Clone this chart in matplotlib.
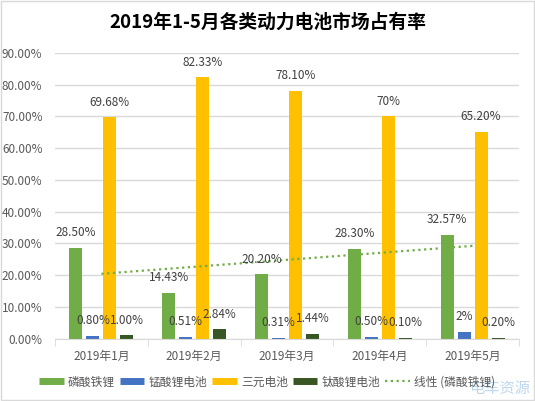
import matplotlib
matplotlib.use('Agg')
import matplotlib.pyplot as plt
import numpy as np
from matplotlib.lines import Line2D
from matplotlib.patches import Rectangle

plt.rcParams['font.family'] = ['Noto Sans CJK SC', 'DejaVu Sans']

months = ['2019年1月', '2019年2月', '2019年3月', '2019年4月', '2019年5月']
lfp = [28.50, 14.43, 20.20, 28.30, 32.57]
lmo = [0.80, 0.51, 0.31, 0.50, 2.00]
ncm = [69.68, 82.33, 78.10, 70.00, 65.20]
lto = [1.00, 2.84, 1.44, 0.10, 0.20]
lfp_labels = ['28.50%', '14.43%', '20.20%', '28.30%', '32.57%']
lmo_labels = ['0.80%', '0.51%', '0.31%', '0.50%', '2%']
ncm_labels = ['69.68%', '82.33%', '78.10%', '70%', '65.20%']
lto_labels = ['1.00%', '2.84%', '1.44%', '0.10%', '0.20%']

series = [
  ('磷酸铁锂', lfp, lfp_labels, '#70AD47'),
  ('锰酸锂电池', lmo, lmo_labels, '#4472C4'),
  ('三元电池', ncm, ncm_labels, '#FFC000'),
  ('钛酸锂电池', lto, lto_labels, '#375623'),
]

grey = '#595959'
fig = plt.figure(figsize=(5.35, 4.01), dpi=100)
ax = fig.add_axes([55 / 535, 1 - 338.5 / 401, 464 / 535, 285.5 / 401])

x = np.arange(1, len(months) + 1)
step = 0.183
width = 0.14
handles = []
for k, (name, vals, labels, color) in enumerate(series):
  pos = x + (k - 1.5) * step
  ax.bar(pos, vals, width=width, color=color, zorder=2)
  for px, v, lab in zip(pos, vals, labels):
    ax.annotate(lab, (px, v), xytext=(0, 11), textcoords='offset points',
                ha='center', va='center', fontsize=8.5, color='#404040', zorder=3)
  handles.append(Line2D([], [], color=color, lw=5, solid_capstyle='butt', label=name))

# linear trendline of 磷酸铁锂
slope, icpt = np.polyfit(x, lfp, 1)
ax.plot(x, slope * x + icpt, color='#70AD47', ls=(0, (1, 1.6)), lw=1.6, zorder=2)
handles.append(Line2D([], [], color='#70AD47', ls=(0, (1, 1.6)), lw=1.6, label='线性 (磷酸铁锂)'))

ax.set_xlim(0.5, len(months) + 0.5)
ax.set_ylim(0, 90)
ax.set_yticks(np.arange(0, 91, 10))
ax.set_yticklabels([f'{v:.2f}%' for v in np.arange(0, 91, 10)])
ax.set_xticks(x)
ax.set_xticklabels(months)
ax.set_xticks(np.arange(0.5, len(months) + 1, 1), minor=True)
ax.tick_params(axis='x', which='major', length=0, pad=8, labelsize=8.5, labelcolor=grey)
ax.tick_params(axis='x', which='minor', length=5, color='#D9D9D9')
ax.tick_params(axis='y', length=0, pad=9, labelsize=8.5, labelcolor=grey)
ax.grid(axis='y', color='#D9D9D9', lw=1, zorder=0)
ax.set_axisbelow(True)
for s in ['top', 'right', 'left']:
  ax.spines[s].set_visible(False)
ax.spines['bottom'].set_color('#D9D9D9')

fig.text(0.5, 1 - 22 / 401, '2019年1-5月各类动力电池市场占有率', ha='center', va='center',
         fontsize=13.5, fontweight='bold', color='black')

fig.legend(handles=handles, loc='center', bbox_to_anchor=(267 / 535, 1 - 382 / 401), ncol=5,
           frameon=False, fontsize=8.5, labelcolor=grey, handlelength=2.1,
           handletextpad=0.35, columnspacing=0.4)

fig.text(500 / 535, 1 - 388 / 401, '电车资源', ha='center', va='center', fontsize=11,
         color='#5B9BD5', alpha=0.4)

fig.patches.append(Rectangle((0.002, 0.002), 0.996, 0.996, transform=fig.transFigure,
                             fill=False, edgecolor='#D9D9D9', lw=1))

fig.savefig('out.png', dpi=100)
